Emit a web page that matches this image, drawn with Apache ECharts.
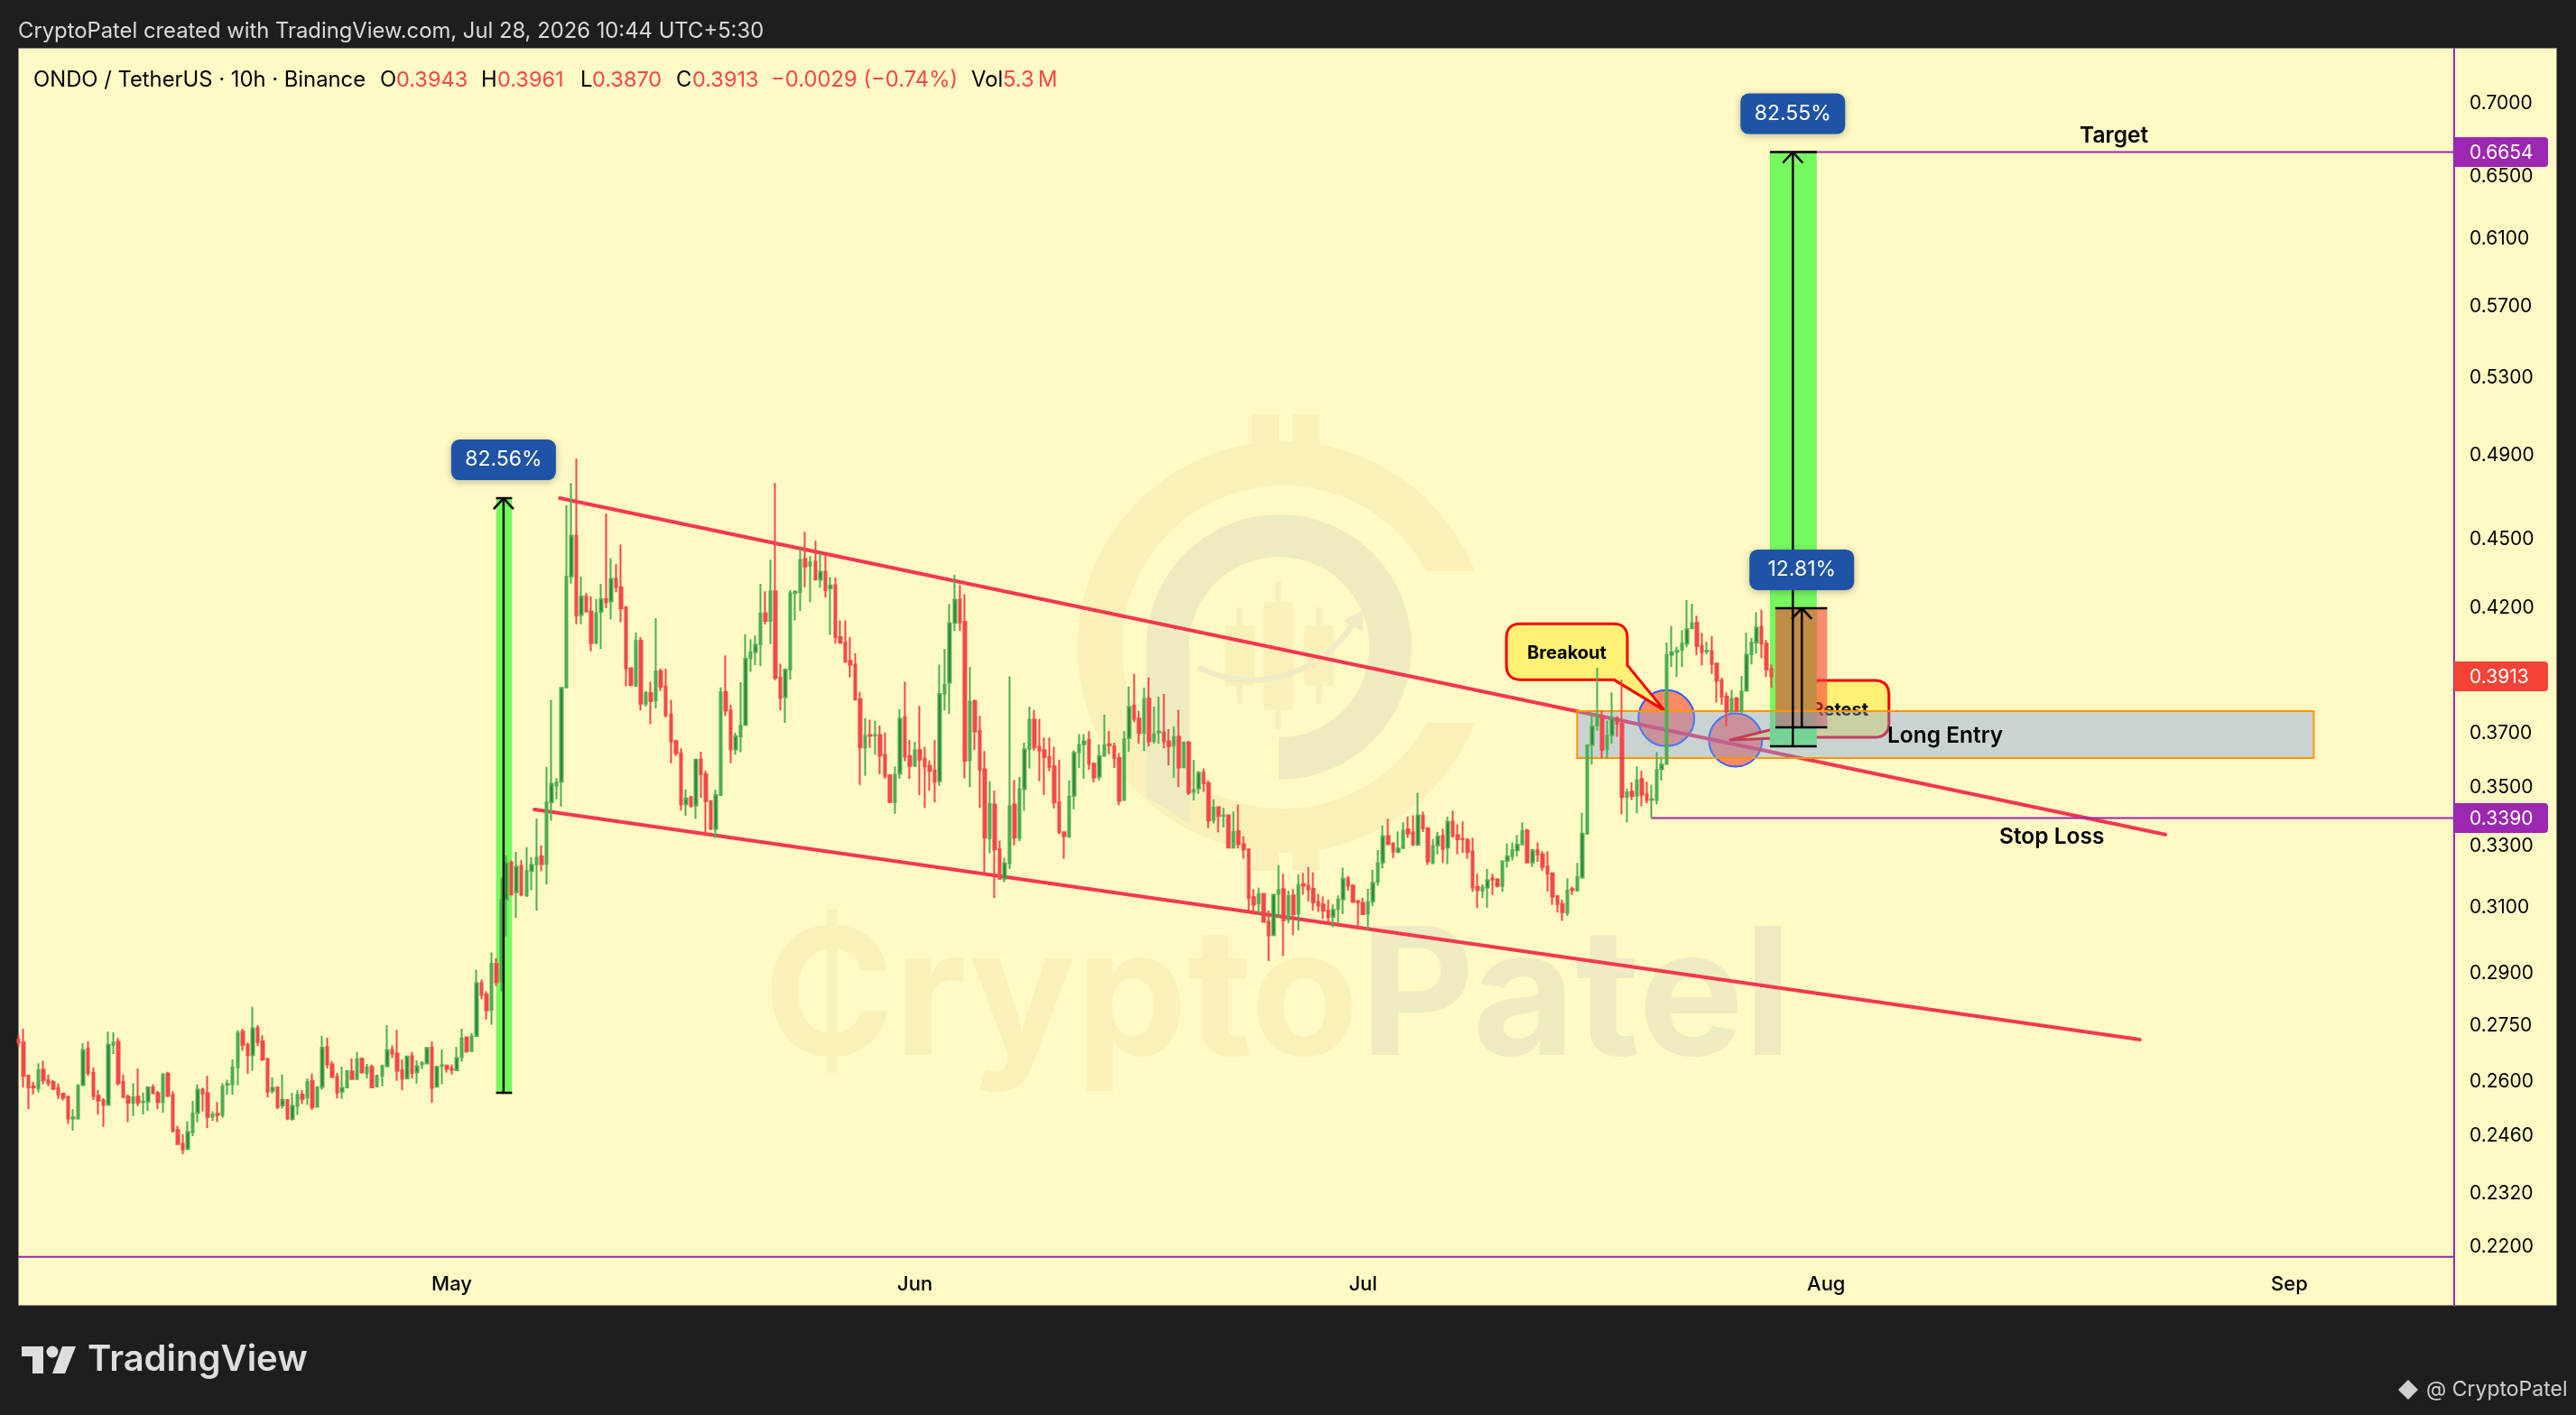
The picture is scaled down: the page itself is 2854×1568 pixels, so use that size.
<!DOCTYPE html>
<html><head><meta charset="utf-8"><title>ONDO / TetherUS</title>
<style>html,body{margin:0;padding:0;background:#1e1e1e}#c{width:2854px;height:1568px}</style>
<script src="https://cdn.jsdelivr.net/npm/echarts@6/dist/echarts.min.js"></script></head>
<body><div id="c"></div><script>
// every candle row is [open, close, low, high]; x is the 10h bar number from Apr 2 (3 bars per day)
const barsApril=[[.2710,.2701,.2689,.2722],[.2701,.2611,.2581,.2739],[.2612,.2581,.2525,.2615],[.2584,.2581,.2563,.2596],[.2579,.2627,.2568,.2645],[.2628,.2600,.2589,.2651],[.2600,.2592,.2584,.2615],[.2595,.2577,.2575,.2600],[.2579,.2563,.2551,.2591],[.2565,.2554,.2547,.2567],
[.2557,.2501,.2487,.2557],[.2501,.2504,.2471,.2525],[.2501,.2585,.2498,.2589],[.2587,.2680,.2587,.2699],[.2684,.2619,.2611,.2704],[.2619,.2558,.2548,.2634],[.2559,.2547,.2511,.2574],[.2547,.2536,.2480,.2553],[.2536,.2695,.2536,.2731],[.2695,.2701,.2670,.2729],
[.2703,.2592,.2586,.2714],[.2595,.2556,.2555,.2615],[.2557,.2542,.2492,.2562],[.2541,.2555,.2507,.2592],[.2557,.2542,.2532,.2631],[.2543,.2544,.2511,.2568],[.2544,.2581,.2520,.2584],[.2581,.2566,.2564,.2589],[.2566,.2543,.2525,.2572],[.2543,.2614,.2516,.2619],
[.2617,.2559,.2556,.2622],[.2561,.2470,.2466,.2571],[.2472,.2437,.2435,.2482],[.2438,.2424,.2412,.2461],[.2425,.2467,.2425,.2494],[.2467,.2514,.2457,.2546],[.2515,.2575,.2491,.2589],[.2576,.2566,.2519,.2580],[.2566,.2505,.2477,.2612],[.2506,.2511,.2495,.2519],
[.2513,.2510,.2492,.2543],[.2510,.2583,.2503,.2592],[.2588,.2590,.2562,.2601],[.2589,.2634,.2562,.2655],[.2634,.2727,.2587,.2735],[.2731,.2695,.2679,.2739],[.2695,.2667,.2617,.2701],[.2667,.2740,.2625,.2800],[.2741,.2702,.2691,.2749],[.2704,.2655,.2651,.2721],
[.2657,.2570,.2555,.2657],[.2572,.2580,.2565,.2607],[.2581,.2530,.2525,.2581],[.2534,.2549,.2526,.2615],[.2548,.2501,.2497,.2548],[.2500,.2533,.2496,.2567],[.2533,.2561,.2510,.2574],[.2562,.2551,.2538,.2574],[.2555,.2595,.2536,.2605],[.2598,.2530,.2523,.2617],
[.2531,.2581,.2531,.2584],[.2582,.2687,.2575,.2719],[.2689,.2642,.2631,.2714],[.2642,.2608,.2608,.2651],[.2609,.2568,.2553,.2619],[.2570,.2580,.2551,.2636],[.2581,.2624,.2580,.2627],[.2623,.2603,.2603,.2658],[.2603,.2656,.2601,.2675],[.2657,.2621,.2617,.2660],
[.2619,.2634,.2605,.2643],[.2635,.2581,.2579,.2641],[.2584,.2611,.2581,.2615],[.2611,.2637,.2584,.2641],[.2637,.2680,.2635,.2749],[.2681,.2671,.2659,.2693],[.2671,.2625,.2598,.2736],[.2626,.2604,.2574,.2655],[.2605,.2663,.2604,.2665],[.2664,.2619,.2604,.2675],
[.2621,.2637,.2591,.2653],[.2642,.2645,.2629,.2651],[.2644,.2686,.2642,.2689],[.2687,.2580,.2541,.2704],[.2583,.2635,.2581,.2639],[.2638,.2640,.2589,.2682],[.2639,.2630,.2620,.2641]];
const barsMay=[[.2631,.2627,.2615,.2642],[.2626,.2659,.2624,.2689],[.2661,.2712,.2649,.2739],[.2715,.2678,.2673,.2716],[.2678,.2717,.2675,.2727],[.2719,.2868,.2719,.2908],[.2868,.2835,.2822,.2879],[.2836,.2791,.2765,.2845],[.2792,.2925,.2750,.2959],[.2925,.2871,.2860,.2942],
[.2875,.3121,.2845,.3192],[.3121,.3239,.3008,.3264],[.3241,.3138,.3138,.3247],[.3145,.3227,.3064,.3276],[.3229,.3138,.3132,.3249],[.3135,.3213,.3130,.3292],[.3214,.3233,.3151,.3259],[.3235,.3257,.3087,.3389],[.3261,.3236,.3213,.3298],[.3237,.3444,.3170,.3570],
[.3445,.3510,.3381,.3821],[.3504,.3514,.3455,.3530],[.3517,.3868,.3430,.3870],[.3870,.4328,.3870,.4654],[.4330,.4512,.4298,.4759],[.4513,.4161,.4125,.4878],[.4164,.4243,.4125,.4330],[.4244,.4178,.4178,.4257],[.4178,.4048,.4014,.4244],[.4050,.4172,.4041,.4232],
[.4178,.4231,.4023,.4297],[.4232,.4219,.4193,.4615],[.4222,.4319,.4145,.4411],[.4320,.4283,.4261,.4385],[.4283,.4193,.4134,.4472],[.4196,.3946,.3874,.4202],[.3946,.3879,.3877,.3948],[.3877,.4056,.3872,.4091],[.4057,.3807,.3781,.4072],[.3807,.3848,.3795,.3856],
[.3848,.3817,.3728,.3892],[.3819,.3933,.3788,.4151],[.3934,.3872,.3856,.3945],[.3873,.3763,.3754,.3944],[.3765,.3663,.3584,.3821],[.3665,.3621,.3610,.3669],[.3621,.3438,.3416,.3638],[.3438,.3458,.3398,.3490],[.3462,.3432,.3427,.3468],[.3434,.3597,.3387,.3598],
[.3598,.3544,.3460,.3626],[.3544,.3449,.3330,.3557],[.3449,.3353,.3353,.3449],[.3353,.3470,.3323,.3489],[.3470,.3850,.3470,.3870],[.3852,.3780,.3759,.3997],[.3780,.3634,.3584,.3802],[.3634,.3683,.3615,.3697],[.3683,.3723,.3624,.3890],[.3726,.3984,.3723,.4084],
[.3986,.4009,.3931,.4063],[.4011,.4040,.3958,.4078],[.4043,.4170,.3955,.4297],[.4172,.4139,.4125,.4265],[.4139,.4264,.4043,.4404],[.4265,.3908,.3898,.4759],[.3909,.3829,.3781,.3964],[.3832,.3939,.3733,.3945],[.3940,.4257,.3901,.4270],[.4257,.4263,.4141,.4270],
[.4262,.4403,.4181,.4452],[.4407,.4374,.4283,.4530],[.4378,.4392,.4219,.4420],[.4395,.4316,.4316,.4489],[.4316,.4350,.4281,.4433],[.4351,.4270,.4238,.4429],[.4278,.4291,.4081,.4327],[.4292,.4072,.4045,.4325],[.4072,.4049,.4045,.4141],[.4049,.3972,.3970,.4141],
[.3975,.3960,.3910,.4072],[.3960,.3822,.3822,.4006],[.3824,.3642,.3506,.3852],[.3642,.3685,.3538,.3751],[.3688,.3685,.3640,.3745],[.3686,.3688,.3615,.3741],[.3688,.3612,.3544,.3723],[.3615,.3538,.3528,.3697],[.3540,.3446,.3442,.3544],[.3446,.3542,.3405,.3572],
[.3546,.3749,.3528,.3786],[.3755,.3608,.3591,.3892],[.3609,.3574,.3528,.3669]];
const barsJune=[[.3574,.3631,.3572,.3662],[.3632,.3597,.3470,.3798],[.3600,.3572,.3426,.3643],[.3574,.3556,.3485,.3594],[.3558,.3517,.3445,.3669],[.3519,.3844,.3503,.3961],[.3846,.3880,.3781,.4023],[.3888,.4129,.3768,.4210],[.4131,.4229,.4098,.4337],[.4229,.4133,.4098,.4293],
[.4136,.3593,.3529,.4253],[.3595,.3814,.3498,.3951],[.3816,.3701,.3632,.3822],[.3703,.3560,.3425,.3760],[.3562,.3324,.3207,.3628],[.3322,.3439,.3272,.3520],[.3437,.3284,.3127,.3486],[.3284,.3188,.3188,.3314],[.3188,.3238,.3177,.3256],[.3239,.3431,.3220,.3913],
[.3437,.3324,.3298,.3524],[.3322,.3490,.3312,.3535],[.3492,.3635,.3416,.3659],[.3637,.3745,.3565,.3795],[.3745,.3642,.3629,.3782],[.3644,.3630,.3520,.3748],[.3632,.3606,.3470,.3678],[.3606,.3571,.3555,.3678],[.3573,.3445,.3423,.3644],[.3445,.3342,.3336,.3596],
[.3342,.3329,.3253,.3342],[.3327,.3465,.3327,.3522],[.3468,.3622,.3421,.3631],[.3624,.3651,.3567,.3691],[.3653,.3664,.3528,.3691],[.3670,.3581,.3560,.3702],[.3581,.3533,.3515,.3587],[.3535,.3609,.3522,.3653],[.3611,.3650,.3611,.3764],[.3653,.3650,.3617,.3702],
[.3645,.3602,.3567,.3659],[.3603,.3450,.3435,.3621],[.3453,.3672,.3450,.3702],[.3677,.3794,.3625,.3873],[.3800,.3748,.3736,.3923],[.3750,.3695,.3655,.3779],[.3696,.3825,.3628,.3869],[.3826,.3664,.3645,.3909],[.3666,.3691,.3655,.3795],[.3698,.3700,.3655,.3834],
[.3698,.3664,.3638,.3844],[.3664,.3647,.3576,.3710],[.3648,.3680,.3531,.3721],[.3681,.3568,.3498,.3783],[.3569,.3659,.3568,.3664],[.3660,.3479,.3470,.3666],[.3481,.3488,.3451,.3596],[.3493,.3550,.3475,.3555],[.3550,.3512,.3481,.3564],[.3512,.3382,.3356,.3522],
[.3384,.3426,.3372,.3455],[.3428,.3397,.3342,.3431],[.3397,.3399,.3358,.3426],[.3400,.3290,.3290,.3400],[.3290,.3343,.3290,.3413],[.3345,.3302,.3287,.3437],[.3302,.3284,.3254,.3328],[.3284,.3127,.3084,.3284],[.3129,.3106,.3076,.3155],[.3109,.3139,.3078,.3159],
[.3140,.3052,.3052,.3140],[.3052,.3011,.2933,.3087],[.3011,.3137,.3011,.3140],[.3140,.3152,.3064,.3232],[.3154,.3057,.2948,.3204],[.3059,.3133,.3049,.3150],[.3135,.3076,.3011,.3155],[.3078,.3168,.3026,.3202],[.3171,.3166,.3137,.3207],[.3166,.3154,.3116,.3226],
[.3156,.3113,.3087,.3209],[.3114,.3103,.3083,.3140],[.3106,.3087,.3061,.3131],[.3087,.3067,.3047,.3121],[.3067,.3089,.3036,.3106],[.3092,.3121,.3049,.3135],[.3123,.3188,.3076,.3224],[.3189,.3166,.3150,.3197],[.3166,.3114,.3111,.3171],[.3118,.3113,.3038,.3118]];
const barsJuly=[[.3111,.3076,.3076,.3127],[.3078,.3114,.3026,.3156],[.3116,.3175,.3101,.3217],[.3178,.3238,.3166,.3282],[.3241,.3328,.3222,.3364],[.3329,.3302,.3300,.3388],[.3305,.3277,.3256,.3305],[.3275,.3287,.3275,.3345],[.3289,.3347,.3287,.3376],[.3352,.3337,.3323,.3395],
[.3342,.3302,.3296,.3400],[.3300,.3400,.3296,.3478],[.3398,.3356,.3343,.3412],[.3356,.3245,.3233,.3356],[.3240,.3296,.3236,.3319],[.3298,.3328,.3268,.3343],[.3330,.3286,.3240,.3353],[.3290,.3377,.3235,.3395],[.3379,.3328,.3328,.3416],[.3332,.3318,.3268,.3369],
[.3320,.3318,.3273,.3379],[.3315,.3276,.3253,.3323],[.3277,.3160,.3146,.3323],[.3162,.3152,.3095,.3204],[.3150,.3160,.3127,.3170],[.3160,.3183,.3096,.3220],[.3190,.3185,.3136,.3204],[.3185,.3165,.3160,.3190],[.3165,.3245,.3147,.3248],[.3246,.3261,.3224,.3305],
[.3263,.3282,.3248,.3308],[.3281,.3300,.3261,.3333],[.3301,.3346,.3298,.3376],[.3348,.3241,.3241,.3353],[.3241,.3281,.3226,.3286],[.3281,.3268,.3243,.3308],[.3268,.3226,.3214,.3278],[.3228,.3204,.3147,.3278],[.3206,.3131,.3105,.3209],[.3133,.3108,.3081,.3133],
[.3108,.3082,.3055,.3122],[.3080,.3150,.3070,.3190],[.3155,.3152,.3136,.3163],[.3150,.3194,.3150,.3240],[.3192,.3337,.3192,.3409],[.3337,.3650,.3337,.3650],[.3651,.3720,.3579,.3770],[.3724,.3756,.3704,.3947],[.3758,.3633,.3602,.3781],[.3636,.3685,.3601,.3742],
[.3688,.3749,.3656,.3850],[.3751,.3730,.3681,.3758],[.3730,.3464,.3403,.3900],[.3464,.3480,.3376,.3493],[.3482,.3466,.3453,.3515],[.3468,.3522,.3407,.3572],[.3527,.3471,.3431,.3556],[.3473,.3453,.3441,.3517],[.3454,.3456,.3390,.3507],[.3453,.3559,.3438,.3624],
[.3563,.3579,.3522,.3606],[.3581,.3998,.3577,.4050],[.4000,.4010,.3951,.4119],[.4012,.4016,.3911,.4032],[.4020,.4045,.3951,.4101],[.4045,.4105,.4030,.4227],[.4108,.4129,.4108,.4212],[.4131,.4036,.3998,.4161],[.4036,.4010,.3957,.4090],[.4014,.4016,.4002,.4053],
[.4015,.3963,.3923,.4076],[.3965,.3896,.3811,.3968],[.3897,.3834,.3802,.3908],[.3834,.3776,.3720,.3850],[.3776,.3825,.3772,.3860],[.3827,.3779,.3776,.3833],[.3779,.3853,.3770,.3915],[.3857,.4000,.3857,.4090],[.4002,.4050,.3961,.4069],[.4050,.4111,.4005,.4176],
[.4114,.4045,.3986,.4186],[.4045,.3941,.3911,.4060],[.3943,.3913,.3870,.3961]];

const monthBarIndex=[87,180,270,363,456];
const monthNames=['May','Jun','Jul','Aug','Sep'];
const priceTicks=[.70,.65,.61,.57,.53,.49,.45,.42,.37,.35,.33,.31,.29,.275,.26,.246,.232,.22];
const targetPrice=.6654, stopPrice=.3390, lastPrice=.3913, basePrice=.2174;
const priceMin=.2069, priceMax=.7388, barMin=.09, barMax=489.1;

// drawings, in [bar, price]
const upperTrend=[[108.7,.4687],[431.1,.3334]];
const lowerTrend=[[103.6,.3420],[426.0,.2709]];
const targetLevel=[[356.3,targetPrice],[barMax,targetPrice]];
const stopLevel=[[328,stopPrice],[barMax,stopPrice]];
const baseLevel=[[barMin,basePrice],[barMax,basePrice]];
const entryZone=[313,460.9,.3603,.3778];
const measures=[
 {bar:97.4,from:95.9,to:99.1,low:.2567,high:.4687,pct:'82.56%',fill:'#76F95F'},
 {bar:356.3,from:351.7,to:361.1,low:.3646,high:targetPrice,pct:'82.55%',fill:'#76F95F'},
 {bar:358.1,from:352.8,to:363.2,low:.3716,high:.4193,pct:'12.81%',fill:'rgba(244,67,54,.6)'}];
const circles=[[330.9,.3751],[344.8,.3669]];
const notes=[['Target',420.8,.6773],['Stop Loss',408.3,.3331],['Long Entry',386.9,.3690]];
const calloutTips=[[330.5,.3781],[343.7,.3669]];
const calloutText=['Breakout','Retest'];

const bars=[...barsApril,...barsMay,...barsJune,...barsJuly].map((r,i)=>[i,...r]);
const FONT='Inter, "Noto Sans", sans-serif';
const GREEN='#4CAF50',DARK='#1B5E20',RED='#F44848',PURPLE='#9C27B0',BLUE='#1E53A5';
const WM_Y='#FAF1B8',WM_G='#EFEBC0';

function roundPoly(v){const o=[];const n=v.length;
 for(let k=0;k<n;k++){const p=v[k],a=v[(k+n-1)%n],b=v[(k+1)%n],r=p[2]||0;
  if(!r){o.push([p[0],p[1]]);continue;}
  const la=Math.hypot(a[0]-p[0],a[1]-p[1]),lb=Math.hypot(b[0]-p[0],b[1]-p[1]);
  const s=[p[0]+(a[0]-p[0])*r/la,p[1]+(a[1]-p[1])*r/la],e=[p[0]+(b[0]-p[0])*r/lb,p[1]+(b[1]-p[1])*r/lb];
  for(let t=0;t<=8;t++){const u=t/8;o.push([(1-u)*(1-u)*s[0]+2*u*(1-u)*p[0]+u*u*e[0],(1-u)*(1-u)*s[1]+2*u*(1-u)*p[1]+u*u*e[1]]);}
 }return o;}
// watermark "C": a ring cut flat on the right side
function cutRing(cx,cy,R,r,d){const pts=[];const a=Math.asin(d/R),b=Math.asin(d/r);
 for(let t=0;t<=120;t++){const g=a+(2*Math.PI-2*a)*t/120;pts.push([cx+R*Math.cos(g),cy+R*Math.sin(g)]);}
 for(let t=120;t>=0;t--){const g=b+(2*Math.PI-2*b)*t/120;pts.push([cx+r*Math.cos(g),cy+r*Math.sin(g)]);}
 return pts;}
const calloutShapes=[
 {box:[-175,-41,-96,-34],pts:[[-175,-96,16],[-41,-96,16],[-41,-50,0],[0,0,0],[-56,-34,0],[-175,-34,16]]},
 {box:[68,176,-66,-3],pts:[[68,-66,16],[176,-66,16],[176,-3,16],[74,-3,0],[0,0,0],[68,-17,0]]}];
function line(a,b,w,c){return {type:'line',shape:{x1:a[0],y1:a[1],x2:b[0],y2:b[1]},style:{stroke:c,lineWidth:w,lineCap:'butt'}};}
function txt(x,y,t,size,weight,fill,align){return {type:'text',x,y:y+1.5,z:50,silent:true,style:{text:t,fill,fontFamily:FONT,fontSize:size,fontWeight:weight,align:align||'left',verticalAlign:'middle'}};}
function trend(name,d,c,w,z){return {name,type:'line',data:d,z,symbol:'none',silent:true,animation:false,lineStyle:{color:c,width:w,cap:'round'}};}

const tagColor={[targetPrice]:PURPLE,[stopPrice]:PURPLE,[lastPrice]:'#F44336'};
const option={
 animation:false,backgroundColor:'#1E1E1E',
 grid:{left:21,right:2854-2719,top:54,bottom:1568-1447,containLabel:false},
 xAxis:{type:'value',min:barMin,max:barMax,splitLine:{show:false},axisTick:{show:false},
  axisLine:{show:false},
  axisLabel:{inside:true,margin:13,customValues:monthBarIndex,color:'#000',fontFamily:FONT,fontSize:22,fontWeight:500,
   formatter:v=>monthNames[monthBarIndex.indexOf(v)]||''}},
 yAxis:{type:'log',position:'right',min:priceMin,max:priceMax,splitLine:{show:false},axisTick:{show:false},minorTick:{show:false},
  axisLine:{show:true,lineStyle:{color:PURPLE,width:2}},
  axisLabel:{margin:0,align:'left',customValues:[...priceTicks,targetPrice,stopPrice,lastPrice],
   formatter:v=>{const s=(+v).toFixed(4);return tagColor[+s]?`{${tagColor[+s]===PURPLE?'p':'r'}|${s}}`:`{t|${s}}`;},
   rich:{
    t:{fontFamily:FONT,fontSize:21,color:'#000',padding:[3,0,0,17]},
    p:{fontFamily:FONT,fontSize:21,color:'#fff',backgroundColor:PURPLE,width:72,padding:[7,15,5,17],borderRadius:[0,4,4,0]},
    r:{fontFamily:FONT,fontSize:21,color:'#fff',backgroundColor:'#F44336',width:72,padding:[7,15,5,17],borderRadius:[0,4,4,0]}}}},
 graphic:{elements:[
  {type:'rect',z:-10,silent:true,shape:{x:20.5,y:53.5,width:2812,height:1393},style:{fill:'#FFF9C4',stroke:'#8C8C80',lineWidth:1}},
  // watermark
  {type:'polygon',z:-9,silent:true,shape:{points:cutRing(1422,717,228,179,84)},style:{fill:WM_Y}},
  {type:'rect',z:-9,silent:true,shape:{x:1387,y:459,width:30,height:40},style:{fill:WM_Y}},
  {type:'rect',z:-9,silent:true,shape:{x:1432,y:459,width:30,height:40},style:{fill:WM_Y}},
  {type:'rect',z:-9,silent:true,shape:{x:1387,y:935,width:30,height:30},style:{fill:WM_Y}},
  {type:'rect',z:-9,silent:true,shape:{x:1432,y:935,width:30,height:30},style:{fill:WM_Y}},
  {type:'sector',z:-8,silent:true,shape:{cx:1417,cy:717,r:147,r0:100,startAngle:Math.PI,endAngle:2.5*Math.PI,clockwise:true},style:{fill:WM_G}},
  {type:'polygon',z:-8,silent:true,shape:{points:[[1270,717],[1318,717],[1318,913],[1270,883]]},style:{fill:WM_G}},
  ...[[1373,673,780,1357,693,33,67],[1416,644,809,1400,667,33,120],[1461,673,780,1445,693,33,67]].flatMap(c=>[
   {type:'rect',z:-8,silent:true,shape:{x:c[0]-3,y:c[1],width:6,height:c[2]-c[1]},style:{fill:'#F7F0BC'}},
   {type:'rect',z:-8,silent:true,shape:{x:c[3],y:c[4],width:c[5],height:c[6],r:4},style:{fill:WM_Y}}]),
  {type:'bezierCurve',z:-7,silent:true,shape:{x1:1328,y1:740,cpx1:1390,cpy1:770,cpx2:1460,cpy2:750,x2:1500,y2:690},style:{stroke:'#EFEBC4',lineWidth:6,fill:'none'}},
  {type:'polygon',z:-7,silent:true,shape:{points:[[1510,676],[1510,700],[1488,688]]},style:{fill:'#EFEBC4'}},
  {type:'text',z:-7,silent:true,x:846,y:1012,style:{text:'₵rypto',fill:WM_Y,fontFamily:'Inter, "DejaVu Sans", sans-serif',fontSize:196,fontWeight:700}},
  {type:'text',z:-7,silent:true,x:1507,y:1012,style:{text:'Patel',fill:WM_G,fontFamily:'Inter, "DejaVu Sans", sans-serif',fontSize:196,fontWeight:700}},
  // header and legend
  txt(20,33.5,'CryptoPatel created with TradingView.com, Jul 28, 2026 10:44 UTC+5:30',23.8,400,'#DADADA'),
  txt(37,87.5,'ONDO / TetherUS · 10h · Binance',23.8,400,'#000'),
  txt(421,87.5,'O',23.8,400,'#000'),txt(439,87.5,'0.3943',23.5,400,RED),
  txt(533,87.5,'H',23.8,400,'#000'),txt(551,87.5,'0.3961',23.5,400,RED),
  txt(643,87.5,'L',23.8,400,'#000'),txt(656,87.5,'0.3870',23.5,400,RED),
  txt(749,87.5,'C',23.8,400,'#000'),txt(767,87.5,'0.3913',23.5,400,RED),
  txt(854,87.5,'−0.0029 (−0.74%)',23.8,400,RED),
  txt(1076,87.5,'Vol',23.8,400,'#000'),txt(1111,87.5,'5.3\u2009M',23.8,400,RED),
  // footer
  {type:'polygon',silent:true,shape:{points:[[24,1492],[48,1492],[48,1522],[36,1522],[36,1503],[24,1503]]},style:{fill:'#DEDEDE'}},
  {type:'circle',silent:true,shape:{cx:58,cy:1498,r:6.5},style:{fill:'#DEDEDE'}},
  {type:'polygon',silent:true,shape:{points:[[69,1492],[84,1492],[72,1522],[58,1522]]},style:{fill:'#DEDEDE'}},
  txt(97,1505.5,'TradingView',40,600,'#DEDEDE'),
  {type:'polygon',silent:true,shape:{points:[[2657,1540],[2668,1529],[2679,1540],[2668,1551]]},style:{fill:'#CFCFCF'}},
  txt(2688,1538.5,'@ CryptoPatel',23,400,'#CFCFCF')
 ]},
 series:[
  {name:'circles',type:'custom',z:2,silent:true,data:circles,renderItem(p,api){const c=api.coord(circles[p.dataIndex]);
    return {type:'circle',shape:{cx:c[0],cy:c[1],r:p.dataIndex?29.5:31},style:{fill:'#FF8A65',stroke:'#2962FF',lineWidth:2}};}},
  {name:'callouts',type:'custom',z:2,silent:true,data:calloutTips,clip:false,renderItem(p,api){const c=api.coord(calloutTips[p.dataIndex]),s=calloutShapes[p.dataIndex];
    const pts=roundPoly(s.pts).map(q=>[q[0]+c[0],q[1]+c[1]]);
    return {type:'group',children:[{type:'polygon',shape:{points:pts},style:{fill:'#FFF176',stroke:'#F40000',lineWidth:3,lineJoin:'round'}},
      txt(c[0]+(s.box[0]+s.box[1])/2,c[1]+(s.box[2]+s.box[3])/2,calloutText[p.dataIndex],20,700,'#000','center')]};}},
  {name:'measureBars',type:'custom',z:2,silent:true,data:measures.map(m=>[m.bar,m.high]),renderItem(p,api){const m=measures[p.dataIndex],a=api.coord([m.from,m.high]),b=api.coord([m.to,m.low]);
    return {type:'rect',shape:{x:a[0],y:a[1],width:b[0]-a[0],height:b[1]-a[1]},style:{fill:m.fill}};}},
  trend('upperTrend',upperTrend,'#F5374F',4,3),
  trend('lowerTrend',lowerTrend,'#F5374F',4,3),
  {name:'entryZone',type:'custom',z:4,silent:true,data:[[entryZone[0],entryZone[3]]],renderItem(p,api){const a=api.coord([entryZone[0],entryZone[3]]),b=api.coord([entryZone[1],entryZone[2]]);
    return {type:'rect',shape:{x:a[0],y:a[1],width:b[0]-a[0],height:b[1]-a[1]},style:{fill:'rgba(120,154,233,.4)',stroke:'#FF9800',lineWidth:2}};}},
  trend('targetLevel',targetLevel,PURPLE,2,4),
  trend('stopLevel',stopLevel,PURPLE,2,4),
  trend('baseLevel',baseLevel,PURPLE,2,4),
  {name:'ONDO',type:'candlestick',z:5,data:bars,encode:{x:0,y:[1,2,3,4]},barWidth:3,animation:false,silent:true,
   itemStyle:{color:DARK,color0:RED,borderColor:GREEN,borderColor0:RED,borderWidth:2}},
  {name:'measureArrows',type:'custom',z:6,silent:true,clip:false,data:measures.map(m=>[m.bar,m.high]),renderItem(p,api){const m=measures[p.dataIndex];
    const t=api.coord([m.bar,m.high]),l=api.coord([m.bar,m.low]),ca=api.coord([m.from,m.high]),cb=api.coord([m.to,m.low]);
    const k='#000';
    return {type:'group',children:[
     line(t,l,2.5,k),line([ca[0],t[1]],[cb[0],t[1]],2.5,k),line([ca[0],l[1]],[cb[0],l[1]],2.5,k),
     line(t,[t[0]-11,t[1]+12],2.5,k),line(t,[t[0]+11,t[1]+12],2.5,k),
     {type:'rect',shape:{x:t[0]-58,y:t[1]-65,width:116,height:45,r:9},style:{fill:BLUE,shadowBlur:8,shadowColor:'rgba(0,0,0,.25)',shadowOffsetY:2}},
     txt(t[0],t[1]-44,m.pct,23,400,'#fff','center')]};}},
  {name:'notes',type:'custom',z:6,silent:true,data:notes.map(n=>[n[1],n[2]]),renderItem(p,api){const n=notes[p.dataIndex],c=api.coord([n[1],n[2]]);
    return txt(c[0],c[1],n[0],24.5,600,'#000','center');}}
 ]};
const chart=echarts.init(document.getElementById('c'),null,{width:2854,height:1568,renderer:'canvas'});
chart.setOption(option);
</script></body></html>
